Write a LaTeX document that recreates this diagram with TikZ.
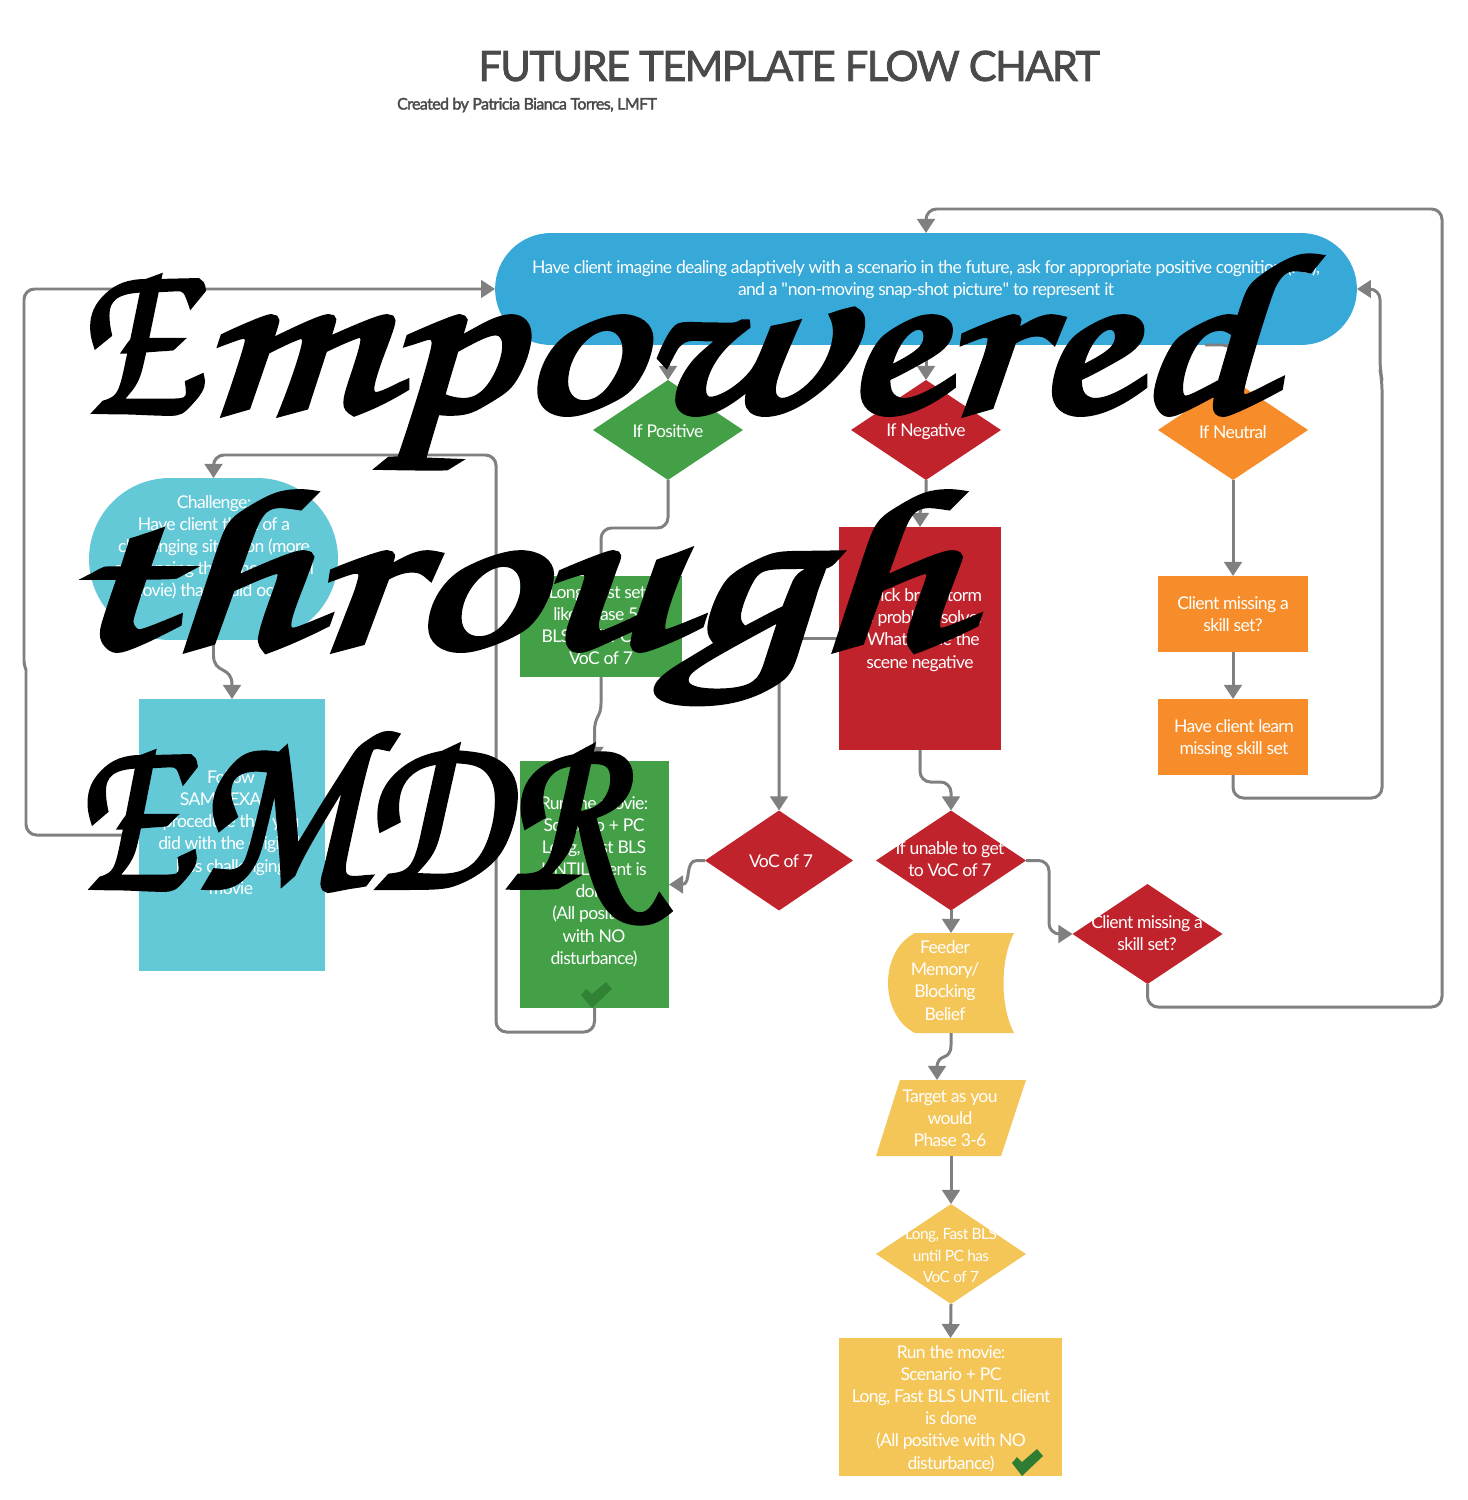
\documentclass[tikz,border=0pt]{standalone}
\usepackage[T1]{fontenc}
\usepackage{graphicx}
\usepackage{fontspec}
\setmainfont{Lato}[LetterSpace=-3.8]
\usetikzlibrary{arrows.meta,shapes.geometric,shapes.misc,calc}
\definecolor{cblue}{HTML}{36A9D8}
\definecolor{cteal}{HTML}{63C9D7}
\definecolor{cgreen}{HTML}{43A047}
\definecolor{cred}{HTML}{C1232D}
\definecolor{corange}{HTML}{F68D2A}
\definecolor{cyellow}{HTML}{F4C557}
\definecolor{cline}{HTML}{808080}
\definecolor{ctitle}{HTML}{4A4A4A}
\definecolor{ccheck}{HTML}{2E7D32}
\newcommand{\chancery}[1]{\fontencoding{T1}\fontfamily{pzc}\fontseries{mb}\fontshape{it}\fontsize{#1}{#1}\selectfont}
\newcommand{\bigword}[1]{\chancery{130}\special{pdf:code 2 Tr 3.4 w}#1\special{pdf:code 0 Tr 1 w}}
\tikzset{
  shapebase/.style={draw=none,inner sep=0pt,outer sep=0pt},
  box/.style={shapebase,rectangle},
  deci/.style={shapebase,diamond},
  pill/.style={shapebase,rounded rectangle},
  body/.style={text=white,align=center,inner sep=0pt,font=\fontsize{10}{12.6}\selectfont},
  small/.style={text=white,align=center,inner sep=0pt,font=\fontsize{8.8}{12.2}\selectfont},
  plainline/.style={draw=cline,line width=1.7pt,rounded corners=6pt},
  conn/.style={plainline,-{Triangle[length=8pt,width=10pt]}},
  overlay/.style={text=black,anchor=base west,inner sep=0pt}
}
\begin{document}
\begin{tikzpicture}[x=0.02cm,y=-0.02cm]
\useasboundingbox (0,0) rectangle (1467,1500);
\fill[white] (0,0) rectangle (1467,1500);

% title
\node[text=ctitle,font=\fontsize{23.7}{28}\selectfont,inner sep=0pt] (title) at (789,66) {\special{pdf:code 2 Tr 0.45 w}FUTURE TEMPLATE FLOW CHART\special{pdf:code 0 Tr 1 w}};
\node[text=ctitle,font=\fontsize{9.1}{11}\selectfont,inner sep=0pt] (credit) at (527,105) {\special{pdf:code 2 Tr 0.2 w}Created by Patricia Bianca Torres, LMFT\special{pdf:code 0 Tr 1 w}};

% shapes
\node[pill,fill=cblue,minimum width=17.24cm,minimum height=2.24cm] (top) at (926,289) {};
\node[deci,fill=cgreen,minimum width=3cm,minimum height=2cm] (pos) at (668,430) {};
\node[deci,fill=cred,minimum width=3cm,minimum height=2cm] (neg) at (926,430) {};
\node[deci,fill=corange,minimum width=3cm,minimum height=2cm] (neu) at (1233,430) {};
\node[pill,fill=cteal,minimum width=4.98cm,minimum height=3.24cm] (chal) at (213.5,559) {};
\node[box,fill=cteal,minimum width=3.72cm,minimum height=5.44cm] (follow) at (232,835) {};
\node[box,fill=cgreen,minimum width=3.24cm,minimum height=2.02cm] (long) at (601,626.5) {};
\node[box,fill=cgreen,minimum width=2.98cm,minimum height=4.94cm] (run) at (594.5,884.5) {};
\node[box,fill=cred,minimum width=3.24cm,minimum height=4.46cm] (quick) at (920,638.5) {};
\node[box,fill=corange,minimum width=3cm,minimum height=1.52cm] (miss) at (1233,614) {};
\node[box,fill=corange,minimum width=3cm,minimum height=1.52cm] (learn) at (1233,737) {};
\node[deci,fill=cred,minimum width=2.96cm,minimum height=2cm] (voc) at (779,860.5) {};
\node[deci,fill=cred,minimum width=3cm,minimum height=2cm] (unable) at (951,860.5) {};
\node[deci,fill=cred,minimum width=3cm,minimum height=2cm] (missd) at (1147.5,934) {};
\fill[cyellow] (915,933) -- (1014,933) .. controls (1000,960) and (1000,1006) .. (1014,1033) -- (915,1033) .. controls (879,1015) and (879,951) .. (915,933) -- cycle;
\node[box,minimum width=2.52cm,minimum height=2cm] (feeder) at (951,983) {};
\fill[cyellow] (900,1080) -- (1026,1080) -- (1001,1156) -- (876,1156) -- cycle;
\node[box,minimum width=3cm,minimum height=1.52cm] (target) at (951,1118) {};
\node[deci,fill=cyellow,minimum width=3cm,minimum height=2cm] (bls) at (951,1254) {};
\node[box,fill=cyellow,minimum width=4.46cm,minimum height=2.76cm] (runy) at (950.5,1407) {};

% free connector ends
\coordinate (neustart) at (1205,345);
\coordinate (tin) at (937,1080);

% connectors
\draw[conn] (follow.west) -- (26,835) -- (26,680) .. controls (26,670) and (24,665) .. (24,650) -- (24,289) -- (top.west);
\draw[conn] (run.south) -- (594.5,1032) -- (496,1032) -- (496,455) -- (213.5,455) -- (chal.north);
\draw[conn,rounded corners=0pt] (chal.south) -- (213.5,655) .. controls (213.5,675) and (232,665) .. (232,685) -- (follow.north);
\draw[conn] (top.south -| pos.north) -- (pos.north);
\draw[conn] (top.south) -- (neg.north);
\draw[conn] (neustart) -- (1233.5,345) -- (neu.north);
\draw[conn] (pos.south) -- (668,528) -- (601,528) -- (long.north);
\draw[conn,rounded corners=0pt] (long.south) -- (601,703) .. controls (601,718) and (594.5,715) .. (594.5,732) -- (run.north);
\draw[conn,rounded corners=0pt] (neg.south) -- (926,492) .. controls (926,505) and (920,505) .. (920,515) -- (quick.north);
\draw[conn] (neu.south) -- (miss.north);
\draw[conn] (miss.south) -- (learn.north);
\draw[conn] (learn.south) -- (1233,798) -- (1382,798) -- (1382,380) -- (1380,370) -- (1380,289) -- (top.east);
\draw[conn] (quick.west) -- (779,638.5) -- (voc.north);
\draw[conn,rounded corners=0pt] (voc.west) -- (697,860.5) .. controls (684,860.5) and (692,884.5) .. (682,884.5) -- (run.east);
\draw[conn] (quick.south) -- (920,782) -- (951,782) -- (unable.north);
\draw[conn] (unable.south) -- (feeder.north);
\draw[conn] (unable.east) -- (1049,860.5) -- (1049,934) -- (missd.west);
\draw[conn] (missd.south) -- (1147.5,1007) -- (1442,1007) -- (1442,209) -- (926,209) -- (top.north);
\draw[conn,rounded corners=0pt] (feeder.south) -- (951,1045) .. controls (951,1062) and (937,1052) .. (937,1068) -- (tin);
\draw[conn] (target.south) -- (bls.north);
\draw[conn] (bls.south) -- (runy.north);

% texts
\node[body] (ttop) at (926,279) {Have client imagine dealing adaptively with a scenario in the future, ask for appropriate positive cognition (PC),\\and a \textquotedbl non-moving snap-shot picture\textquotedbl{} to represent it};
\node[body] (tpos) at (668,431) {If Positive};
\node[body] (tneg) at (926,432) {If Negative};
\node[body] (tneu) at (1233,432) {If Neutral};
\node[body] (tchal) at (214,547.5) {Challenge:\\Have client think of a\\challenging situation (more\\challenging than the original\\movie) that could occur.};
\node[body] (tfollow) at (231,832.5) {Follow\\SAME EXACT\\procedure that you\\did with the original,\\less challenging\\movie};
\node[body] (tlong) at (601,625) {Long, Fast sets\\like Phase 5 -\\BLS until PC has\\VoC of 7};
\node[body] (trun) at (594,881.5) {Run the movie:\\Scenario + PC\\Long, Fast BLS\\UNTIL client is\\done\\(All positive\\with NO\\disturbance)};
\node[body] (tquick) at (920,630) {Quick brainstorm\\to problem solve:\\\textquotedbl What made the\\scene negative};
\node[body] (tmiss) at (1233,614) {Client missing a\\skill set?};
\node[body] (tlearn) at (1234,738.5) {Have client learn\\missing skill set};
\node[body] (tvoc) at (781,861) {VoC of 7};
\node[body] (tunable) at (950,859.5) {If unable to get\\to VoC of 7};
\node[body] (tmissd) at (1147,933.5) {Client missing a\\skill set?};
\node[body] (tfeeder) at (945,980.5) {Feeder\\Memory/\\Blocking\\Belief};
\node[body] (ttarget) at (950,1118) {Target as you\\would\\Phase 3-6};
\node[small] (tbls) at (951,1255.5) {Long, Fast BLS\\until PC has\\VoC of 7};
\node[body] (trunY) at (951,1408.5) {Run the movie:\\Scenario + PC\\Long, Fast BLS UNTIL client\\is done\\(All positive with NO\\disturbance)};

% check marks
\fill[ccheck!85!cgreen] (581,995) -- (586,989) -- (592,994) -- (606,982) -- (612,989) -- (592,1008) -- cycle;
\fill[ccheck] (1012,1463) -- (1017,1457) -- (1022,1462) -- (1037,1449) -- (1043,1456) -- (1022,1476) -- cycle;

% overlay
\node[overlay] (w1) at (78,411) {\bigword{\scalebox{0.82}[1]{E}\kern 2pt\scalebox{1.31}[1]{mpowered}}};
\node[overlay] (w2) at (60,647) {\bigword{\scalebox{1.42}[1]{through}}};
\node[overlay] (w3) at (76,887) {\bigword{\scalebox{0.78}[1]{E}\kern 4pt\scalebox{0.88}[1]{MDR}}};
\end{tikzpicture}
\end{document}
